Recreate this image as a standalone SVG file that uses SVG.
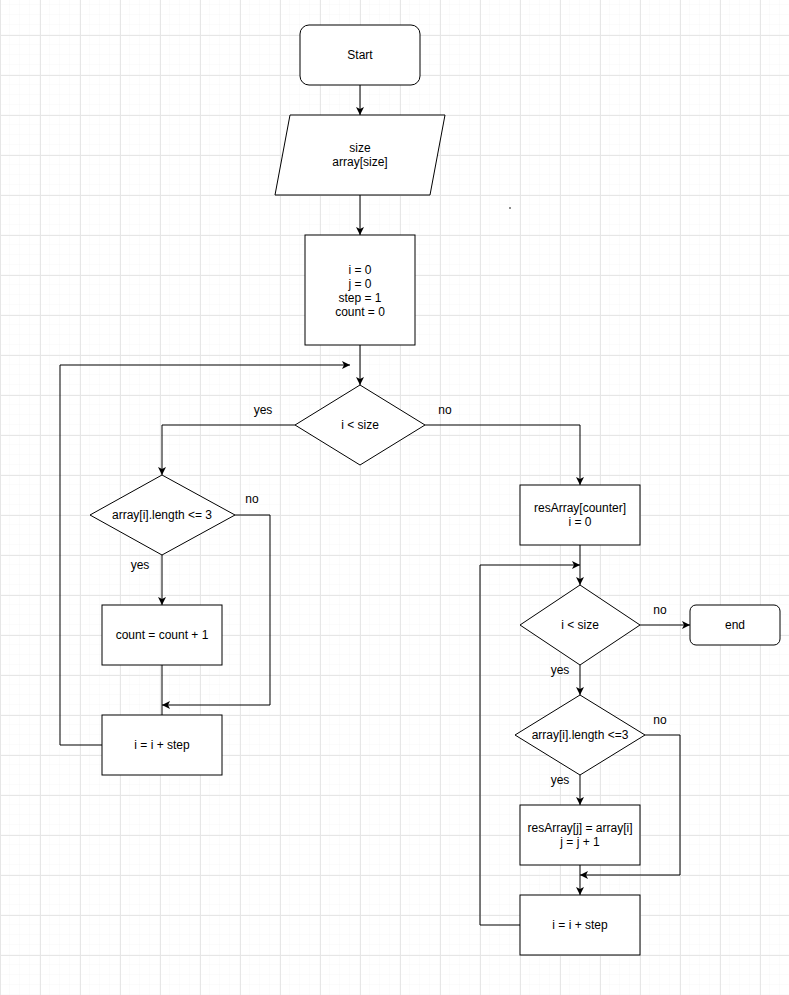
<svg xmlns="http://www.w3.org/2000/svg" width="789" height="995" viewBox="0 0 789 995">
<defs>
<pattern id="minor" x="0" y="-5" width="10" height="10" patternUnits="userSpaceOnUse"><path d="M10 0V10M0 10H10" fill="none" stroke="#f6f6f6" stroke-width="1"/></pattern>
<pattern id="major" x="0" y="-5" width="40" height="40" patternUnits="userSpaceOnUse"><path d="M0.5 0V40M0 0.5H40" fill="none" stroke="#e6e6e6" stroke-width="1"/></pattern>
<marker id="a" markerWidth="10" markerHeight="10" refX="9" refY="5" orient="auto" markerUnits="userSpaceOnUse"><path d="M1 1L9 5L1 9L3 5Z" fill="#000"/></marker>
<style>
.s{fill:#fff;stroke:#000;stroke-width:1}
.c{fill:none;stroke:#000;stroke-width:1;marker-end:url(#a)}
.l{fill:none;stroke:#000;stroke-width:1}
text{font-family:"Liberation Sans",Arial,sans-serif;font-size:12px;fill:#000;text-anchor:middle}
</style>
</defs>
<rect width="789" height="995" fill="#fff"/>
<rect width="789" height="995" fill="url(#minor)"/>
<rect width="789" height="995" fill="url(#major)"/>
<circle cx="510" cy="208" r="0.8" fill="#000"/>
<g id="connectors">
<path class="c" d="M360 85V115"/>
<path class="c" d="M360 195V235"/>
<path class="c" d="M360 345V385"/>
<path class="c" d="M102 745H60V365H350"/>
<path class="c" d="M295 425H162V475"/>
<path class="c" d="M425 425H580V485"/>
<path class="c" d="M162 555V605"/>
<path class="l" d="M162 665V715"/>
<path class="c" d="M235 515H270V705H162"/>
<path class="c" d="M580 545V585"/>
<path class="c" d="M520 925H480V565H580"/>
<path class="c" d="M640 625H690"/>
<path class="c" d="M580 665V695"/>
<path class="c" d="M580 775V805"/>
<path class="c" d="M645 735H680V875H580"/>
<path class="c" d="M580 865V895"/>
<text x="263" y="414">yes</text>
<text x="445" y="414">no</text>
<text x="252" y="503">no</text>
<text x="140" y="569">yes</text>
<text x="660" y="614">no</text>
<text x="560" y="674">yes</text>
<text x="660" y="724">no</text>
<text x="560" y="784">yes</text>
</g>
<g id="start"><rect class="s" x="300" y="25" width="120" height="60" rx="9"/><text x="360" y="59">Start</text></g>
<g id="input"><path class="s" d="M290 115H445L430 195H275Z"/><text x="360" y="152">size</text><text x="360" y="166">array[size]</text></g>
<g id="init"><rect class="s" x="305" y="235" width="110" height="110"/><text x="360" y="274">i = 0</text><text x="360" y="288">j = 0</text><text x="360" y="302">step = 1</text><text x="360" y="316">count = 0</text></g>
<g id="cond1"><path class="s" d="M360 385L425 425L360 465L295 425Z"/><text x="360" y="429">i &lt; size</text></g>
<g id="cond2"><path class="s" d="M162 475L235 515L162 555L90 515Z"/><text x="162" y="519">array[i].length &lt;= 3</text></g>
<g id="count"><rect class="s" x="102" y="605" width="120" height="60"/><text x="162" y="639">count = count + 1</text></g>
<g id="inc1"><rect class="s" x="102" y="715" width="120" height="60"/><text x="162" y="749">i = i + step</text></g>
<g id="res"><rect class="s" x="520" y="485" width="120" height="60"/><text x="580" y="512">resArray[counter]</text><text x="580" y="526">i = 0</text></g>
<g id="cond3"><path class="s" d="M580 585L640 625L580 665L520 625Z"/><text x="580" y="629">i &lt; size</text></g>
<g id="end"><rect class="s" x="690" y="605" width="90" height="40" rx="6"/><text x="735" y="629">end</text></g>
<g id="cond4"><path class="s" d="M580 695L645 735L580 775L515 735Z"/><text x="580" y="739">array[i].length &lt;=3</text></g>
<g id="assign"><rect class="s" x="520" y="805" width="120" height="60"/><text x="580" y="832">resArray[j] = array[i]</text><text x="580" y="846">j = j + 1</text></g>
<g id="inc2"><rect class="s" x="520" y="895" width="120" height="60"/><text x="580" y="929">i = i + step</text></g>
</svg>
